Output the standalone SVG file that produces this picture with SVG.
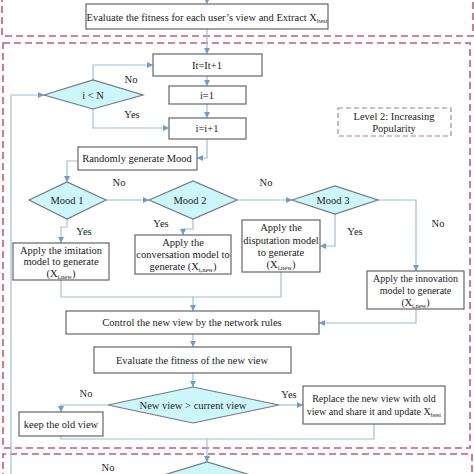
<svg xmlns="http://www.w3.org/2000/svg" width="474" height="474" viewBox="0 0 474 474">
<defs>
<marker id="ah" viewBox="0 0 10 10" refX="10" refY="5" markerWidth="6" markerHeight="6" markerUnits="userSpaceOnUse" orient="auto">
<path d="M0,0 L10,5 L0,10 z" fill="#6e9ccb"/>
</marker>
<style>
.frame{fill:none;stroke:#c25c78;stroke-width:1.6;stroke-dasharray:7,4}
.box{fill:#fff;stroke:#666;stroke-width:1.2}
.dia{fill:#cdf6fb;stroke:#6f7a80;stroke-width:1.2}
.con{fill:none;stroke:#9cbfdc;stroke-width:1.2}
.arr{marker-end:url(#ah)}
text{font-family:"Liberation Serif","Times New Roman",serif;font-size:10.5px;fill:#222;text-anchor:middle}
.sm{font-size:10px}
.sub{font-size:6.5px}
</style>
</defs>
<rect width="474" height="474" fill="#fff"/>
<g id="frames">
<path class="frame" d="M2,-5 V36 H473 V-5"/>
<rect class="frame" x="3" y="43" width="467" height="405"/>
<path class="frame" d="M3,480 V454 H472 V480"/>
</g>
<g id="connectors">
<path class="con arr" d="M207,-2 V4"/>
<path class="con arr" d="M207,29 V54"/>
<path class="con arr" d="M207,76 V86"/>
<path class="con arr" d="M207,104 V118"/>
<path class="con arr" d="M207,139 V158 H197"/>
<path class="con arr" d="M78,161 H67 V182"/>
<path class="con arr" d="M106,200 H149"/>
<path class="con arr" d="M237,200 H292"/>
<path class="con arr" d="M378,200 H416 V271"/>
<path class="con arr" d="M335,214 V246 H320"/>
<path class="con arr" d="M193,219 V229 H183 V235"/>
<path class="con arr" d="M67,219 V227 H61 V243"/>
<path class="con" d="M61,280 V297 H281 V272"/>
<path class="con arr" d="M193,297 V311"/>
<path class="con arr" d="M416,309 V323 H319"/>
<path class="con arr" d="M193,334 V347"/>
<path class="con arr" d="M193,373 V387"/>
<path class="con arr" d="M108,405 H61 V412"/>
<path class="con arr" d="M279,405 H303"/>
<path class="con" d="M61,436 V439 H374 V424"/>
<path class="con arr" d="M207,439 V462"/>
<path class="con arr" d="M93,80 V65 H153"/>
<path class="con arr" d="M93,109 V128 H169"/>
<path class="con arr" d="M11,480 V95 H44"/>
</g>
<g id="n_eval">
<rect class="box" x="86" y="4" width="242" height="25"/>
<text x="207" y="20.5">Evaluate the fitness for each user’s view and Extract X<tspan class="sub" dy="2">best</tspan></text>
</g>
<g id="n_it">
<rect class="box" x="153" y="54" width="109" height="22"/>
<text x="207" y="68.5">It=It+1</text>
</g>
<g id="n_i1">
<rect class="box" x="169" y="86" width="77" height="18"/>
<text x="207" y="98.5">i=1</text>
</g>
<g id="n_iinc">
<rect class="box" x="169" y="118" width="77" height="21"/>
<text x="207" y="132">i=i+1</text>
</g>
<g id="n_iN">
<polygon class="dia" points="44,95 93,80 143,95 93,109"/>
<text x="93" y="98.5">i &lt; N</text>
</g>
<g id="n_level">
<rect x="338" y="108" width="113" height="28" fill="#fff" stroke="#a88898" stroke-width="1.2" stroke-dasharray="5,3"/>
<text x="394" y="120">Level 2: Increasing</text>
<text x="394" y="132">Popularity</text>
</g>
<g id="n_rand">
<rect class="box" x="78" y="147" width="119" height="23"/>
<text x="137" y="162">Randomly generate Mood</text>
</g>
<g id="n_m1">
<polygon class="dia" points="29,200 67,182 106,200 67,219"/>
<text x="67" y="204">Mood 1</text>
</g>
<g id="n_m2">
<polygon class="dia" points="149,200 193,181 237,200 193,219"/>
<text x="190" y="204">Mood 2</text>
</g>
<g id="n_m3">
<polygon class="dia" points="292,200 335,186 378,200 335,214"/>
<text x="333" y="204">Mood 3</text>
</g>
<g id="n_imit">
<rect class="box" x="13" y="243" width="96" height="37"/>
<text x="61" y="254">Apply the imitation</text>
<text x="61" y="265">model to generate</text>
<text x="61" y="277">(X<tspan class="sub" dy="2">i,new</tspan><tspan dy="-2">)</tspan></text>
</g>
<g id="n_conv">
<rect class="box" x="135" y="235" width="96" height="39"/>
<text x="183" y="246">Apply the</text>
<text x="183" y="258">conversation model to</text>
<text x="183" y="270">generate (X<tspan class="sub" dy="2">i,new</tspan><tspan dy="-2">)</tspan></text>
</g>
<g id="n_disp">
<rect class="box" x="242" y="220" width="78" height="52"/>
<text x="281" y="231">Apply the</text>
<text x="281" y="244">disputation model</text>
<text x="281" y="256">to generate</text>
<text x="281" y="268">(X<tspan class="sub" dy="2">i,new</tspan><tspan dy="-2">)</tspan></text>
</g>
<g id="n_innov">
<rect class="box" x="367" y="271" width="97" height="38"/>
<text class="sm" x="415.5" y="282">Apply the innovation</text>
<text class="sm" x="415.5" y="294">model to generate</text>
<text class="sm" x="415.5" y="306">(X<tspan class="sub" dy="2">i,new</tspan><tspan dy="-2">)</tspan></text>
</g>
<g id="n_ctrl">
<rect class="box" x="66" y="311" width="253" height="23"/>
<text x="192" y="326">Control the new view by the network rules</text>
</g>
<g id="n_evalnew">
<rect class="box" x="94" y="347" width="197" height="26"/>
<text x="192" y="363.5">Evaluate the fitness of the new view</text>
</g>
<g id="n_cmp">
<polygon class="dia" points="108,405 193,387 279,405 193,423"/>
<text x="193" y="408.5">New view &gt; current view</text>
</g>
<g id="n_keep">
<rect class="box" x="19" y="412" width="84" height="24"/>
<text x="61" y="427.5">keep the old view</text>
</g>
<g id="n_repl">
<rect class="box" x="303" y="386" width="142" height="38"/>
<text class="sm" x="374" y="402">Replace the new view with old</text>
<text class="sm" x="374" y="415">view and share it and update X<tspan class="sub" dy="2">best</tspan></text>
</g>
<g id="n_bottom">
<polygon class="dia" points="147,480 207,462 267,480 207,498"/>
</g>
<g id="labels">
<text x="131" y="83">No</text>
<text x="132" y="118">Yes</text>
<text x="119" y="186">No</text>
<text x="266" y="186">No</text>
<text x="84" y="235">Yes</text>
<text x="161" y="227">Yes</text>
<text x="355" y="235">Yes</text>
<text x="438" y="227">No</text>
<text x="86" y="397">No</text>
<text x="289" y="398">Yes</text>
<text x="108" y="471">No</text>
</g>
</svg>
